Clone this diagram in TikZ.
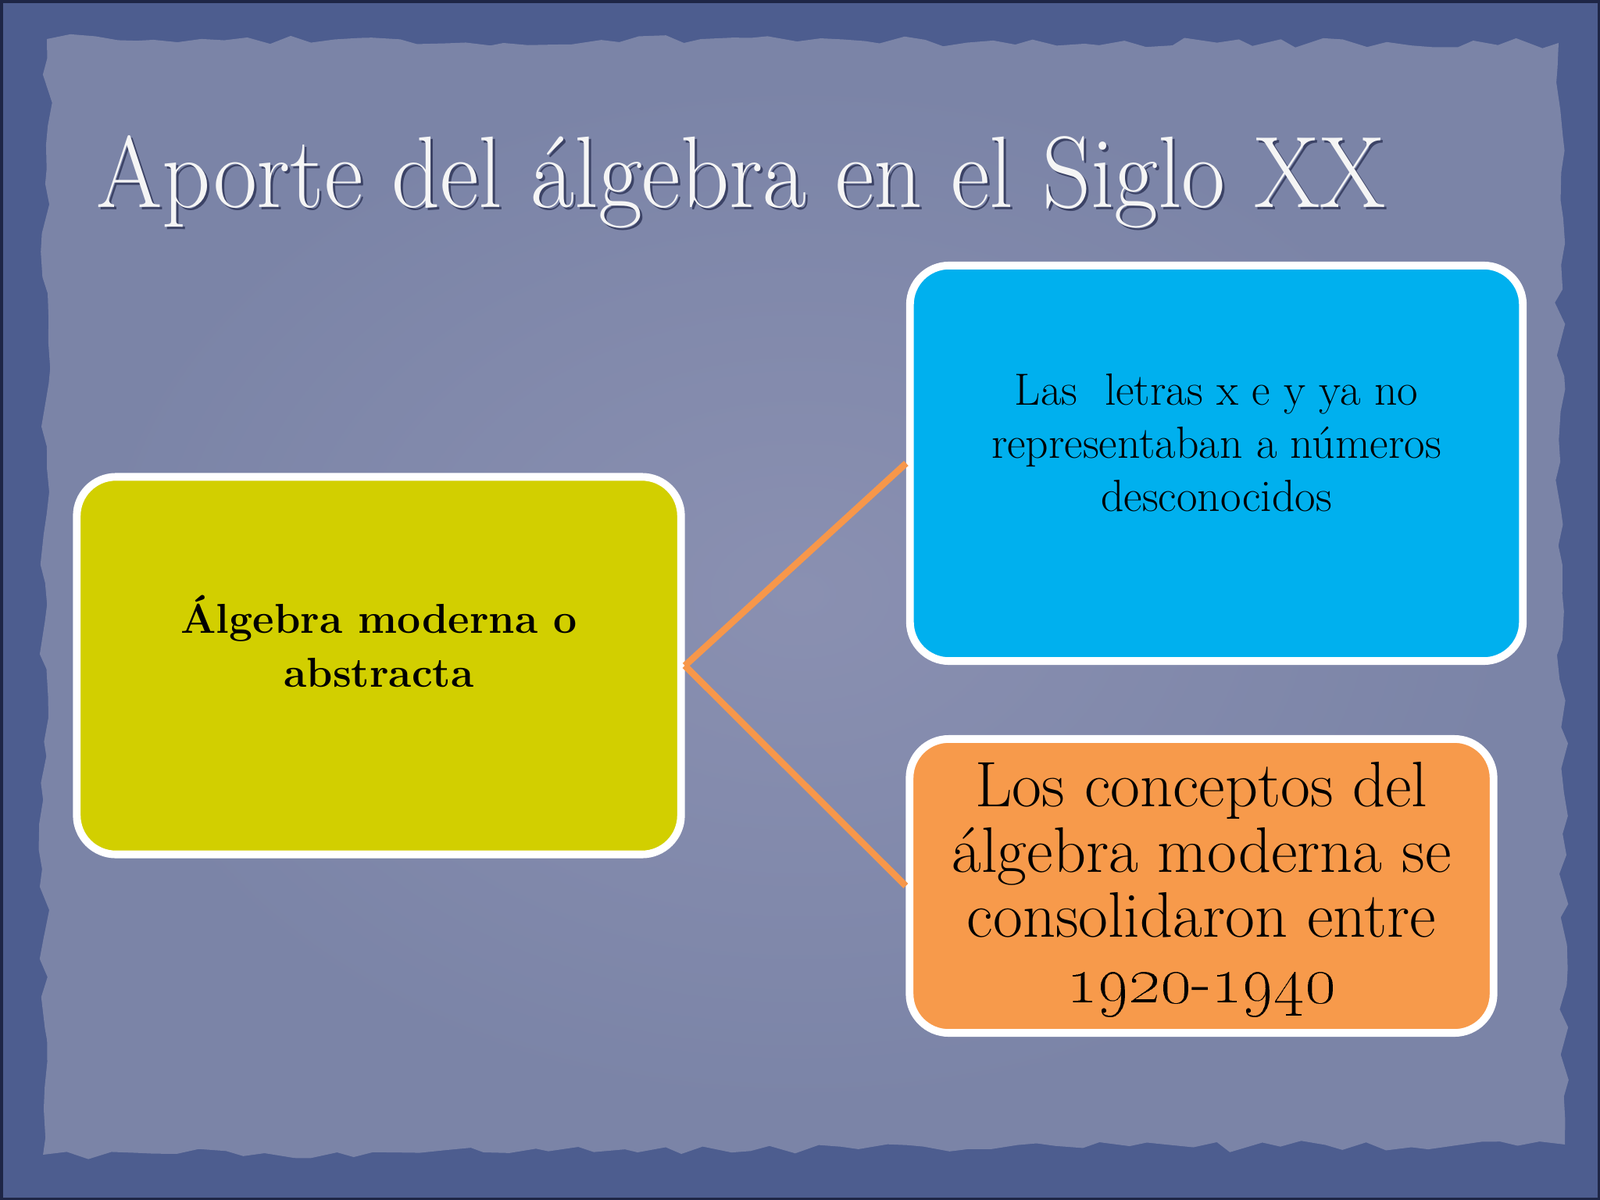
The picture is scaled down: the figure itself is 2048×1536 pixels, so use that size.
\documentclass[tikz,border=0pt]{standalone}
\usepackage{graphicx}
\usetikzlibrary{decorations.pathmorphing}

\definecolor{framebg}{HTML}{4D5D8F}
\definecolor{framedark}{HTML}{1E2646}
\definecolor{paperbg}{HTML}{7B84A7}
\definecolor{paperlight}{HTML}{8A90B1}
\definecolor{titleshade}{HTML}{3C4366}
\definecolor{boxyellow}{HTML}{D2CF00}
\definecolor{boxblue}{HTML}{00B0EE}
\definecolor{boxorange}{HTML}{F79A4B}
\definecolor{linkorange}{HTML}{F7974A}

\begin{document}
\begin{tikzpicture}[x = 0.01cm, y = -0.01cm,
    stepbox/.style = {draw = white, line width = 2.8pt, rounded corners = 0.5cm, inner sep = 0},
    boxtext/.style = {align = center, text = black, inner sep = 0},
    link/.style    = {draw = linkorange, line width = 2.4pt}]

    \useasboundingbox (0,0) rectangle (2048,1536);

    % background
    \fill [framebg] (0,0) rectangle (2048,1536);
    \fill [paperbg, decorate, decoration = {random steps, segment length = 8pt, amplitude = 2pt}]
        (60,50) -- (1995,55) -- (2003,1465) -- (55,1478) -- cycle;
    \shade [inner color = paperlight, outer color = paperbg] (1024,760) ellipse [x radius = 920, y radius = 660];
    \draw [framedark, line width = 2pt] (0,0) rectangle (2048,1536);

    % title
    \node (titleshadow) [anchor = base west, text = titleshade, font = \fontsize{37}{40}\selectfont]
        at (114,268) {\scalebox{0.935}[1]{Aporte del álgebra en el Siglo XX}};
    \node (title) [anchor = base west, text = white!96!black, font = \fontsize{37}{40}\selectfont]
        at (111,265) {\scalebox{0.935}[1]{Aporte del álgebra en el Siglo XX}};

    % boxes
    \node (algebra)   [stepbox, fill = boxyellow, minimum width = 7.73cm, minimum height = 4.83cm] at (485,852) {};
    \node (letras)    [stepbox, fill = boxblue,   minimum width = 7.84cm, minimum height = 5.06cm] at (1557,593) {};
    \node (conceptos) [stepbox, fill = boxorange, minimum width = 7.47cm, minimum height = 3.76cm] at (1538,1134) {};

    % connectors
    \draw [link] (algebra.east) -- (letras.west);
    \draw [link] (algebra.east) -- (conceptos.west);

    % texts
    \node (algebratext) [boxtext, font = \fontsize{15.2}{19.6}\selectfont\bfseries] at (485,821)
        {Álgebra moderna o\\abstracta};
    \node (letrastext) [boxtext, font = \fontsize{16.4}{19.3}\selectfont] at (1557,567)
        {Las\ \ letras x e y ya no\\representaban a números\\desconocidos};
    \node (conceptostext) [boxtext, font = \fontsize{23.4}{23.8}\selectfont] at (1538,1138)
        {Los conceptos del\\álgebra moderna se\\consolidaron entre\\\oldstylenums{1920}-\oldstylenums{1940}};
\end{tikzpicture}
\end{document}
